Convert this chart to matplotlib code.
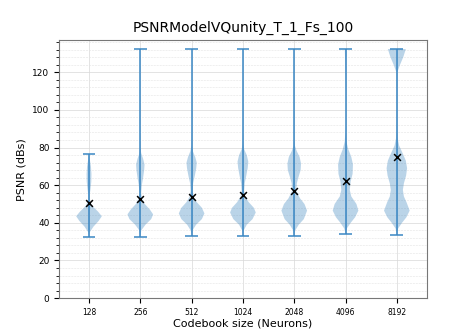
import matplotlib
matplotlib.use("Agg")
import matplotlib.pyplot as plt
from matplotlib.ticker import MultipleLocator

codebook_sizes = ["128", "256", "512", "1024", "2048", "4096", "8192"]

psnr_min = [32.5, 32.7, 33.0, 33.0, 33.2, 34.1, 33.7]
psnr_max = [76.7, 132.3, 132.3, 132.3, 132.3, 132.3, 132.3]
psnr_mean = [50.8, 52.9, 53.8, 54.7, 57.0, 62.3, 74.9]

# density profile: psnr levels and relative width
levels_128 = [32.5, 35, 38, 41, 43.5, 46, 49, 52, 55, 58, 62, 66, 70, 73, 76.7]
density_128 = [0.0, 0.06, 0.35, 0.75, 1.0, 0.7, 0.25, 0.06, 0.06, 0.12, 0.18, 0.19, 0.15, 0.08, 0.0]

levels_256 = [32.7, 36, 39, 42, 44.5, 47, 50, 53, 56, 60, 64, 68, 71, 74, 77, 80, 90, 132.3]
density_256 = [0.0, 0.08, 0.4, 0.85, 1.0, 0.75, 0.35, 0.12, 0.07, 0.12, 0.22, 0.3, 0.33, 0.22, 0.07, 0.01, 0.0, 0.0]

levels_512 = [33.0, 36, 39, 42, 45, 48, 51, 54, 57, 61, 65, 69, 72, 75, 78, 81, 90, 132.3]
density_512 = [0.0, 0.07, 0.35, 0.8, 1.0, 0.8, 0.4, 0.15, 0.08, 0.12, 0.25, 0.36, 0.4, 0.28, 0.1, 0.02, 0.0, 0.0]

levels_1024 = [33.0, 36, 39, 42, 45.5, 48, 51, 54, 57, 61, 65, 69, 72.5, 76, 79, 82, 90, 132.3]
density_1024 = [0.0, 0.06, 0.3, 0.75, 1.0, 0.85, 0.45, 0.18, 0.1, 0.14, 0.26, 0.37, 0.42, 0.3, 0.1, 0.02, 0.0, 0.0]

levels_2048 = [33.2, 36, 39, 42, 46.5, 50, 53, 57, 61, 64, 68, 71.5, 75, 78, 81, 84, 132.3]
density_2048 = [0.0, 0.08, 0.35, 0.75, 1.0, 0.8, 0.45, 0.17, 0.2, 0.32, 0.5, 0.53, 0.42, 0.2, 0.05, 0.01, 0.0]

levels_4096 = [34.1, 37, 40, 43, 46.5, 50, 54, 57.5, 62, 66, 71, 75, 79, 83, 87, 91, 110, 128, 132.3]
density_4096 = [0.0, 0.1, 0.4, 0.75, 1.0, 0.85, 0.45, 0.33, 0.4, 0.55, 0.58, 0.45, 0.22, 0.07, 0.02, 0.0, 0.0, 0.04, 0.06]

levels_8192 = [33.7, 37, 40, 43, 46.5, 51, 54, 57.5, 61, 65, 69, 73, 77, 81, 85, 89, 95, 110, 120, 124, 128, 132.3]
density_8192 = [0.0, 0.1, 0.4, 0.75, 1.0, 0.75, 0.55, 0.47, 0.55, 0.72, 0.8, 0.7, 0.45, 0.18, 0.06, 0.03, 0.02, 0.02, 0.04, 0.25, 0.5, 0.7]

levels = [levels_128, levels_256, levels_512, levels_1024, levels_2048, levels_4096, levels_8192]
densities = [density_128, density_256, density_512, density_1024, density_2048, density_4096, density_8192]

vpstats = []
for lv, dn, lo, hi, mu in zip(levels, densities, psnr_min, psnr_max, psnr_mean):
    vpstats.append(dict(coords=lv, vals=dn, mean=mu, median=mu, min=lo, max=hi))

positions = list(range(1, len(codebook_sizes) + 1))

fig, ax = plt.subplots(figsize=(4.74, 3.35), dpi=100)
parts = ax.violin(vpstats, positions=positions, widths=0.5, showmeans=False,
                  showextrema=True, showmedians=False)
for body in parts['bodies']:
    body.set_facecolor('#2b7bba')
    body.set_edgecolor('none')
    body.set_alpha(0.32)
for key in ('cmaxes', 'cmins', 'cbars'):
    parts[key].set_color('#3a87c4')
    parts[key].set_linewidth(1.1)
ax.scatter(positions, psnr_mean, marker='x', color='black', s=24, linewidths=1.1, zorder=3)

ax.set_title("PSNRModelVQunity_T_1_Fs_100", fontsize=10)
ax.set_xlabel("Codebook size (Neurons)", fontsize=8, labelpad=1)
ax.set_ylabel("PSNR (dBs)", fontsize=8)
ax.set_xticks(positions)
ax.set_xticklabels(codebook_sizes, fontsize=5.5)
ax.tick_params(axis='y', labelsize=6.5)
ax.set_xlim(0.42, 7.58)
ax.set_ylim(0, 137)
ax.yaxis.set_major_locator(MultipleLocator(20))
ax.yaxis.set_minor_locator(MultipleLocator(4))
ax.grid(which='major', color='#d8d8d8', linestyle='-', linewidth=0.5)
ax.grid(which='minor', axis='y', color='#e4e4e4', linestyle='--', linewidth=0.4)
ax.set_axisbelow(True)
for sp in ax.spines.values():
    sp.set_color('#777777')

fig.savefig("out.png", dpi=100)
